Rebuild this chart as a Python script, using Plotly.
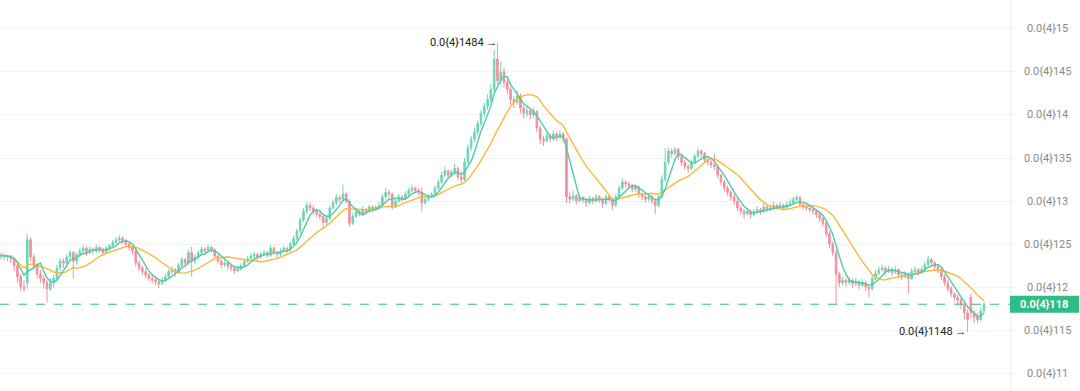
import numpy as np
import pandas as pd
import plotly.graph_objects as go

# Prices in units of 1e-6 (0.0{4}xx notation => 0.0000xx)
opens = [12.35,12.37,12.35,12.36,12.33,12.25,12.12,12.00,12.05,12.55,
12.35,12.25,12.15,12.10,12.05,11.98,12.05,12.10,12.22,12.30,
12.28,12.35,12.40,12.30,12.38,12.42,12.45,12.40,12.44,12.42,
12.46,12.44,12.40,12.45,12.48,12.52,12.55,12.57,12.54,12.50,
12.46,12.42,12.28,12.22,12.18,12.14,12.10,12.08,12.06,12.04,
12.08,12.12,12.18,12.20,12.17,12.25,12.32,12.28,12.40,12.30,
12.35,12.40,12.44,12.42,12.46,12.43,12.36,12.30,12.26,12.28,
12.24,12.22,12.19,12.21,12.25,12.30,12.33,12.36,12.38,12.35,
12.38,12.40,12.37,12.45,12.40,12.38,12.42,12.45,12.43,12.50,
12.56,12.65,12.78,12.88,12.95,12.92,12.88,12.85,12.82,12.75,
12.80,12.92,12.98,13.04,13.02,13.08,13.00,12.74,12.82,12.88,
12.85,12.90,12.88,12.93,12.90,12.92,12.95,13.05,13.10,13.08,
12.94,13.00,13.05,13.03,13.08,13.12,13.15,13.12,13.10,12.98,
13.02,13.05,13.08,13.15,13.22,13.30,13.35,13.30,13.33,13.38,
13.28,13.25,13.45,13.62,13.72,13.80,13.90,14.02,14.10,14.18,
14.30,14.65,14.40,14.50,14.38,14.30,14.18,14.15,14.22,14.08,
14.02,14.05,14.00,14.04,13.85,13.72,13.70,13.76,13.72,13.78,
13.74,13.78,13.72,13.05,13.02,13.06,13.00,13.04,13.01,12.98,
13.03,13.00,13.05,13.02,12.97,13.05,13.02,12.95,13.05,13.15,
13.22,13.20,13.18,13.14,13.16,13.08,13.05,13.02,13.05,13.00,
12.95,13.05,13.25,13.45,13.58,13.55,13.60,13.52,13.45,13.40,
13.38,13.45,13.52,13.58,13.55,13.48,13.45,13.42,13.40,13.30,
13.22,13.15,13.10,13.05,13.00,12.92,12.88,12.85,12.88,12.84,
12.87,12.90,12.88,12.93,12.90,12.92,12.95,12.93,12.95,12.92,
12.96,12.98,13.02,13.04,12.96,12.93,12.92,12.90,12.88,12.84,
12.80,12.74,12.62,12.50,12.40,12.15,12.05,12.08,12.05,12.08,
12.04,12.06,12.02,12.05,12.00,11.98,12.10,12.16,12.20,12.22,
12.18,12.21,12.17,12.20,12.14,12.12,12.15,12.10,12.18,12.20,
12.17,12.20,12.26,12.32,12.28,12.24,12.20,12.12,12.05,11.98,
11.92,11.88,11.85,11.80,11.70,11.88,11.70,11.65,11.62,11.72]
highs = [12.40,12.39,12.38,12.37,12.35,12.27,12.15,12.08,12.62,12.58,
12.38,12.28,12.20,12.14,12.08,12.10,12.14,12.26,12.34,12.33,
12.38,12.43,12.42,12.40,12.45,12.48,12.47,12.47,12.46,12.49,
12.48,12.46,12.48,12.50,12.55,12.58,12.60,12.59,12.56,12.52,
12.48,12.44,12.31,12.25,12.22,12.17,12.14,12.12,12.09,12.12,
12.15,12.21,12.24,12.22,12.28,12.35,12.34,12.43,12.47,12.38,
12.43,12.47,12.46,12.49,12.48,12.45,12.38,12.33,12.31,12.30,
12.27,12.24,12.24,12.28,12.33,12.36,12.39,12.41,12.40,12.41,
12.43,12.42,12.49,12.47,12.42,12.45,12.48,12.47,12.53,12.60,
12.68,12.81,12.92,12.99,12.98,12.95,12.91,12.88,12.84,12.84,
12.95,13.02,13.08,13.07,13.19,13.10,13.02,12.86,12.92,12.90,
12.94,12.92,12.96,12.95,12.95,12.99,13.08,13.15,13.13,13.10,
13.03,13.08,13.07,13.11,13.15,13.19,13.17,13.15,13.16,13.06,
13.08,13.11,13.18,13.25,13.34,13.40,13.37,13.36,13.43,13.40,
13.35,13.50,13.66,13.76,13.85,13.94,14.06,14.14,14.24,14.36,
14.76,14.84,14.62,14.55,14.42,14.33,14.22,14.28,14.25,14.12,
14.10,14.08,14.08,14.06,13.88,13.76,13.80,13.79,13.82,13.80,
13.82,13.80,13.74,13.10,13.12,13.08,13.08,13.06,13.04,13.06,
13.05,13.08,13.07,13.04,13.08,13.07,13.04,13.08,13.18,13.26,
13.24,13.22,13.20,13.19,13.18,13.10,13.08,13.08,13.07,13.03,
13.08,13.30,13.62,13.62,13.61,13.63,13.62,13.55,13.48,13.43,
13.48,13.55,13.61,13.60,13.57,13.51,13.48,13.55,13.42,13.32,
13.25,13.18,13.13,13.08,13.03,12.95,12.91,12.92,12.90,12.91,
12.94,12.92,12.97,12.95,12.96,12.99,12.97,12.99,12.97,13.00,
13.02,13.05,13.07,13.06,12.98,12.96,12.94,12.93,12.90,12.86,
12.82,12.76,12.65,12.53,12.44,12.18,12.12,12.10,12.12,12.10,
12.10,12.08,12.09,12.07,12.03,12.14,12.20,12.24,12.26,12.24,
12.25,12.23,12.24,12.22,12.17,12.19,12.17,12.22,12.24,12.22,
12.24,12.30,12.36,12.34,12.30,12.26,12.22,12.15,12.08,12.01,
11.94,11.91,11.88,11.83,11.74,11.92,11.73,11.70,11.76,11.83]
lows = [12.32,12.31,12.30,12.28,12.18,12.05,11.95,11.94,11.98,12.30,
12.20,12.10,12.05,11.98,11.82,11.95,12.00,12.08,12.18,12.22,
12.25,12.32,12.10,12.26,12.35,12.38,12.36,12.38,12.38,12.40,
12.40,12.36,12.38,12.42,12.46,12.50,12.52,12.50,12.46,12.42,
12.38,12.24,12.18,12.14,12.10,12.06,12.04,12.02,11.99,12.02,
12.05,12.10,12.15,12.12,12.15,12.22,12.24,12.26,12.12,12.27,
12.33,12.38,12.38,12.40,12.40,12.33,12.27,12.22,12.23,12.20,
12.18,12.15,12.17,12.19,12.23,12.28,12.31,12.33,12.31,12.33,
12.36,12.34,12.35,12.37,12.34,12.36,12.40,12.39,12.41,12.48,
12.54,12.62,12.75,12.85,12.88,12.84,12.81,12.78,12.68,12.72,
12.78,12.90,12.95,12.98,13.00,12.97,12.70,12.72,12.80,12.82,
12.83,12.84,12.86,12.87,12.88,12.90,12.93,13.02,13.04,12.90,
12.92,12.98,12.99,13.01,13.06,13.10,13.09,13.07,12.88,12.95,
13.00,13.03,13.06,13.13,13.20,13.28,13.26,13.28,13.31,13.24,
13.20,13.23,13.43,13.58,13.68,13.76,13.86,13.98,14.06,14.14,
14.26,14.36,14.35,14.32,14.24,14.12,14.08,14.12,14.02,13.96,
13.98,13.95,13.97,13.80,13.66,13.64,13.68,13.68,13.70,13.70,
13.72,13.68,12.98,12.97,13.00,12.96,12.98,12.97,12.93,12.96,
12.96,12.98,12.98,12.92,12.95,12.98,12.90,12.93,13.03,13.13,
13.16,13.14,13.10,13.11,13.04,13.01,12.98,12.99,12.96,12.85,
12.93,13.03,13.22,13.42,13.50,13.52,13.48,13.41,13.36,13.33,
13.36,13.43,13.50,13.51,13.44,13.41,13.38,13.36,13.26,13.18,
13.11,13.06,13.00,12.95,12.88,12.84,12.80,12.83,12.80,12.82,
12.85,12.84,12.86,12.87,12.88,12.90,12.90,12.91,12.89,12.90,
12.94,12.96,13.00,12.93,12.90,12.89,12.87,12.84,12.80,12.76,
12.70,12.58,12.45,12.36,11.80,12.00,12.02,12.00,12.03,11.99,
12.01,11.97,12.00,11.95,11.88,11.96,12.08,12.14,12.18,12.14,
12.16,12.13,12.15,12.10,12.08,12.10,11.92,12.08,12.16,12.13,
12.15,12.18,12.24,12.24,12.20,12.16,12.08,12.01,11.94,11.88,
11.84,11.80,11.74,11.62,11.48,11.64,11.58,11.58,11.60,11.70]
closes = [12.37,12.35,12.36,12.33,12.25,12.12,12.00,11.98,12.55,12.35,
12.25,12.15,12.10,12.05,11.98,12.05,12.10,12.22,12.30,12.28,
12.35,12.40,12.30,12.38,12.42,12.45,12.40,12.44,12.42,12.46,
12.44,12.40,12.45,12.48,12.52,12.55,12.57,12.54,12.50,12.46,
12.42,12.28,12.22,12.18,12.14,12.10,12.08,12.06,12.04,12.08,
12.12,12.18,12.20,12.17,12.25,12.32,12.28,12.40,12.30,12.35,
12.40,12.44,12.42,12.46,12.43,12.36,12.30,12.26,12.28,12.24,
12.22,12.19,12.21,12.25,12.30,12.33,12.36,12.38,12.35,12.38,
12.40,12.37,12.45,12.40,12.38,12.42,12.45,12.43,12.50,12.56,
12.65,12.78,12.88,12.95,12.92,12.88,12.85,12.82,12.75,12.80,
12.92,12.98,13.04,13.02,13.08,13.00,12.74,12.82,12.88,12.85,
12.90,12.88,12.93,12.90,12.92,12.95,13.05,13.10,13.08,12.94,
13.00,13.05,13.03,13.08,13.12,13.15,13.12,13.10,12.98,13.02,
13.05,13.08,13.15,13.22,13.30,13.35,13.30,13.33,13.38,13.28,
13.25,13.45,13.62,13.72,13.80,13.90,14.02,14.10,14.18,14.30,
14.65,14.40,14.50,14.38,14.30,14.18,14.15,14.22,14.08,14.02,
14.05,14.00,14.04,13.85,13.72,13.70,13.76,13.72,13.78,13.74,
13.78,13.72,13.05,13.02,13.06,13.00,13.04,13.01,12.98,13.03,
13.00,13.05,13.02,12.97,13.05,13.02,12.95,13.05,13.15,13.22,
13.20,13.18,13.14,13.16,13.08,13.05,13.02,13.05,13.00,12.95,
13.05,13.25,13.45,13.58,13.55,13.60,13.52,13.45,13.40,13.38,
13.45,13.52,13.58,13.55,13.48,13.45,13.42,13.40,13.30,13.22,
13.15,13.10,13.05,13.00,12.92,12.88,12.85,12.88,12.84,12.87,
12.90,12.88,12.93,12.90,12.92,12.95,12.93,12.95,12.92,12.96,
12.98,13.02,13.04,12.96,12.93,12.92,12.90,12.88,12.84,12.80,
12.74,12.62,12.50,12.40,12.15,12.05,12.08,12.05,12.08,12.04,
12.06,12.02,12.05,12.00,11.98,12.10,12.16,12.20,12.22,12.18,
12.21,12.17,12.20,12.14,12.12,12.15,12.10,12.18,12.20,12.17,
12.20,12.26,12.32,12.28,12.24,12.20,12.12,12.05,11.98,11.92,
11.88,11.85,11.80,11.70,11.62,11.70,11.65,11.62,11.72,11.80]

tick_values = [15.0, 14.5, 14.0, 13.5, 13.0, 12.5, 12.0, 11.5, 11.0]
fast_window = 5
slow_window = 15


def fmt(v):
    digits = f"{v:.2f}".replace(".", "").rstrip("0")
    return "0.0{4}" + digits


idx = list(range(len(closes)))
cs = pd.Series(closes)
ma_fast = cs.rolling(fast_window, min_periods=1).mean()
ma_slow = cs.rolling(slow_window, min_periods=1).mean()

UP = "#6fd6b6"
DOWN = "#f3919b"

fig = go.Figure()
fig.add_trace(go.Candlestick(
    x=idx, open=opens, high=highs, low=lows, close=closes,
    increasing=dict(line=dict(color=UP, width=1), fillcolor=UP),
    decreasing=dict(line=dict(color=DOWN, width=1), fillcolor=DOWN),
    whiskerwidth=0, showlegend=False, hoverinfo="skip"))
fig.add_trace(go.Scatter(x=idx, y=ma_slow, mode="lines",
                         line=dict(color="#f9b938", width=1.4), showlegend=False, hoverinfo="skip"))
fig.add_trace(go.Scatter(x=idx, y=ma_fast, mode="lines",
                         line=dict(color="#4fcaa8", width=1.4), showlegend=False, hoverinfo="skip"))

n = len(closes)
xr = [-0.3, n - 1 + 7.9]
yr = [10.791, 15.337]

last = closes[-1]
shapes = [
    dict(type="line", xref="paper", x0=0, x1=1.006, yref="y", y0=last, y1=last,
         line=dict(color="#2ebd85", width=1, dash="dash")),
    dict(type="rect", xref="paper", x0=1.0, x1=1.0685, yref="y", y0=last - 0.098, y1=last + 0.098,
         fillcolor="#2ebd85", line=dict(width=0), layer="above"),
]

annotations = []
for tv in tick_values:
    annotations.append(dict(xref="paper", x=1047 / 1010, yref="y", y=tv, text=fmt(tv),
                            showarrow=False, xanchor="center", yanchor="middle",
                            font=dict(family="Roboto", size=11, color="#8a8a8a")))
annotations.append(dict(xref="paper", x=1044 / 1010, yref="y", y=last, text="<b>" + fmt(last) + "</b>",
                        showarrow=False, xanchor="center", yanchor="middle",
                        font=dict(family="Roboto", size=11, color="white")))

hi_i = int(np.argmax(highs))
lo_i = int(np.argmin(lows))
annotations.append(dict(x=hi_i, y=highs[hi_i], xref="x", yref="y", text=fmt(highs[hi_i]) + " →",
                        showarrow=False, xanchor="right", yanchor="middle", xshift=2,
                        font=dict(family="Roboto", size=11, color="#222")))
annotations.append(dict(x=lo_i, y=lows[lo_i], xref="x", yref="y", text=fmt(lows[lo_i]) + " →",
                        showarrow=False, xanchor="right", yanchor="middle", xshift=0,
                        font=dict(family="Roboto", size=11, color="#222")))

fig.update_layout(
    width=1080, height=391,
    margin=dict(l=0, r=70, t=0, b=0),
    paper_bgcolor="white", plot_bgcolor="white",
    shapes=shapes, annotations=annotations,
    xaxis=dict(range=xr, showgrid=False, zeroline=False, showticklabels=False,
               rangeslider=dict(visible=False), fixedrange=True),
    yaxis=dict(range=yr, side="right", tickvals=tick_values, showticklabels=False,
               showgrid=True, gridcolor="#f2f2f2", gridwidth=1, zeroline=False,
               showline=True, linecolor="#f0f0f0", ticks="outside", ticklen=5,
               tickcolor="#f0f0f0", fixedrange=True),
)

fig.write_html("out.html", config={"displayModeBar": False},
               post_script="document.body.style.margin='0px';document.body.style.overflow='hidden';")
